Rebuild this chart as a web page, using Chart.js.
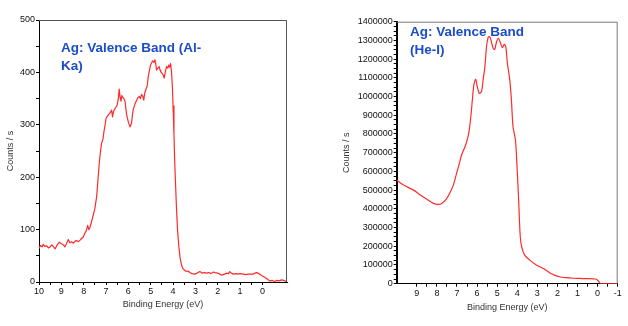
<!DOCTYPE html>
<html>
<head>
<meta charset="utf-8">
<script src="https://cdn.jsdelivr.net/npm/chart.js@4"></script>
<style>
  html, body { margin: 0; padding: 0; background: #fff; }
  body { width: 628px; height: 326px; position: relative; overflow: hidden; }
  canvas { position: absolute; top: 0; }
  #alChart { left: 0; }
  #heChart { left: 320px; }
</style>
</head>
<body>
<canvas id="alChart" width="300" height="326"></canvas>
<canvas id="heChart" width="308" height="326"></canvas>
<script>
// --- Data: Ag valence band, Al-Ka source ---
const energyAl = [
  10, 9.93, 9.86, 9.81, 9.74, 9.66, 9.58, 9.5, 9.43, 9.36,
  9.28, 9.2, 9.09, 9.0, 8.91, 8.84, 8.76, 8.69, 8.62, 8.54,
  8.46, 8.38, 8.32, 8.24, 8.16, 8.1, 8.02, 7.95, 7.88, 7.82,
  7.77, 7.72, 7.65, 7.57, 7.5, 7.42, 7.36, 7.3, 7.25, 7.2,
  7.14, 7.09, 7.04, 7.0, 6.95, 6.9, 6.83, 6.75, 6.71, 6.66,
  6.6, 6.55, 6.5, 6.45, 6.41, 6.37, 6.33, 6.29, 6.26, 6.2,
  6.15, 6.08, 6.0, 5.93, 5.86, 5.82, 5.78, 5.7, 5.63, 5.57,
  5.51, 5.46, 5.41, 5.36, 5.31, 5.27, 5.23, 5.16, 5.11, 5.07,
  5.01, 4.96, 4.92, 4.86, 4.81, 4.77, 4.74, 4.68, 4.62, 4.58,
  4.55, 4.49, 4.44, 4.4, 4.34, 4.29, 4.24, 4.19, 4.15, 4.11,
  4.07, 4.03, 4.0, 3.96, 3.92, 3.88, 3.85, 3.8, 3.74, 3.68,
  3.62, 3.55, 3.47, 3.4, 3.33, 3.25, 3.15, 3.03, 2.93, 2.8,
  2.7, 2.6, 2.5, 2.4, 2.3, 2.2, 2.13, 2.0, 1.9, 1.83,
  1.7, 1.6, 1.52, 1.46, 1.4, 1.31, 1.2, 1.1, 1.0, 0.86,
  0.75, 0.64, 0.52, 0.42, 0.33, 0.27, 0.2, 0.12, 0.02, -0.1,
  -0.2, -0.33, -0.45, -0.55, -0.63, -0.75, -0.85, -0.95, -1.08
];
const countsAl = [
  64, 70, 67, 72, 68, 69, 65, 67, 71, 68,
  63, 70, 76, 73, 71, 67, 74, 81, 75, 77,
  74, 78, 79, 77, 80, 83, 86, 93, 98, 108,
  100, 104, 115, 128, 140, 163, 195, 228, 248, 265,
  272, 288, 300, 312, 316, 319, 322, 328, 315, 326,
  331, 334, 338, 350, 368, 352, 345, 356, 353, 350,
  345, 320, 305, 296, 303, 318, 330, 340, 347, 352,
  354, 350, 358, 355, 347, 360, 366, 373, 392, 401,
  414, 418, 422, 419, 424, 415, 405, 408, 411, 404,
  401, 398, 395, 389, 402, 411, 408, 414, 410, 417,
  402, 372, 336, 282, 222, 178, 144, 100, 67, 45,
  32, 25, 22, 20, 21, 18, 16, 15, 17, 20,
  17, 18, 17, 18, 16, 19, 18, 17, 15, 13,
  15, 17, 16, 20, 17, 15, 16, 15, 16, 15,
  14, 15, 15, 15, 17, 18, 17, 15, 12, 9,
  6, 2, 3, 1, 3, 2, 4, 3, 1
];

// --- Data: Ag valence band, He-I source ---
const energyHe = [
  10, 9.66, 9.16, 8.83, 8.5, 8.17, 7.92, 7.76, 7.54, 7.35,
  7.18, 7.02, 6.88, 6.77, 6.6, 6.47, 6.39, 6.31, 6.22, 6.16,
  6.07, 5.99, 5.89, 5.78, 5.7, 5.61, 5.53, 5.45, 5.39, 5.33,
  5.2, 5.12, 5.03, 4.93, 4.84, 4.74, 4.65, 4.57, 4.49, 4.37,
  4.29, 4.21, 4.09, 4.01, 3.93, 3.85, 3.76, 3.63, 3.38, 3.05,
  2.72, 2.39, 2.15, 1.9, 1.57, 1.24, 0.91, 0.58, 0.1, -0.03,
  -0.15, -0.4, -1.0
];
const countsHe = [
  554000, 527000, 500000, 474000, 451000, 429000, 424000, 429000, 451000, 486000,
  527000, 590000, 643000, 688000, 732000, 777000, 821000, 892000, 999000, 1062000,
  1092000, 1053000, 1017000, 1026000, 1088000, 1160000, 1266000, 1316000, 1320000, 1311000,
  1258000, 1252000, 1293000, 1311000, 1288000, 1261000, 1279000, 1266000, 1177000, 1088000,
  981000, 839000, 768000, 625000, 447000, 251000, 189000, 153000, 126000, 100000,
  82000, 59000, 46000, 37000, 32000, 29000, 28000, 27000, 25000, 16000,
  0, 0, 0
];

// --- Tick lists ---
const xTicksAl = [10, 9, 8, 7, 6, 5, 4, 3, 2, 1, 0];
const yTicksAl = [0, 100, 200, 300, 400, 500];
const xTicksHe = [9, 8, 7, 6, 5, 4, 3, 2, 1, 0, -1];
const yTicksHe = [0, 100000, 200000, 300000, 400000, 500000, 600000, 700000,
  800000, 900000, 1000000, 1100000, 1200000, 1300000, 1400000];

const titleAl = ['Ag: Valence Band (Al-', 'Ka)'];
const titleHe = ['Ag: Valence Band', '(He-I)'];

// Draws the blue title inside the plot and the top/right frame
const framePlugin = {
  id: 'frame',
  afterDraw(chart, args, opts) {
    const { ctx, chartArea: a } = chart;
    ctx.save();
    ctx.strokeStyle = opts.color;
    ctx.lineWidth = 1;
    ctx.beginPath();
    ctx.moveTo(a.left, a.top + 0.5);
    ctx.lineTo(a.right - 0.5, a.top + 0.5);
    ctx.lineTo(a.right - 0.5, a.bottom);
    ctx.stroke();

    ctx.fillStyle = '#1c4cc6';
    ctx.font = 'bold 13.5px "Liberation Sans", Arial, sans-serif';
    ctx.textBaseline = 'middle';
    opts.lines.forEach((line, i) => {
      ctx.fillText(line, a.left + opts.dx, a.top + opts.dy + i * 18);
    });
    ctx.restore();
  }
};

// Build a tick list with minor (unlabelled) marks between the majors
function withMinors(majors, step) {
  const out = [];
  for (let i = 0; i < majors.length; i++) {
    out.push({ value: majors[i], major: true });
    if (i < majors.length - 1) {
      const a = majors[i], b = majors[i + 1];
      const dir = b > a ? 1 : -1;
      for (let v = a + dir * step; dir * (b - v) > 1e-9; v += dir * step) {
        out.push({ value: v, major: false });
      }
    }
  }
  return out;
}

function buildChart(canvasId, energy, counts, cfg) {
  const ctx = document.getElementById(canvasId).getContext('2d');
  const points = energy.map((e, i) => ({ x: e, y: counts[i] }));
  const font = { family: '"Liberation Sans", Arial, sans-serif', size: 9 };

  return new Chart(ctx, {
    type: 'line',
    data: {
      datasets: [{
        data: points,
        borderColor: '#ff2a2a',
        borderWidth: 1.2,
        borderJoinStyle: 'round',
        pointRadius: 0,
        tension: cfg.tension,
        fill: false
      }]
    },
    options: {
      responsive: false,
      animation: false,
      layout: { padding: cfg.padding },
      plugins: {
        legend: { display: false },
        tooltip: { enabled: false },
        frame: { color: cfg.frameColor, lines: cfg.title, dx: cfg.titleDx, dy: cfg.titleDy }
      },
      scales: {
        x: {
          type: 'linear',
          reverse: true,
          min: cfg.xMin,
          max: 10,
          afterBuildTicks: axis => { axis.ticks = withMinors(cfg.xTicks, 0.5).filter(t => t.value >= cfg.xMin); },
          afterFit: axis => { axis.height = cfg.xAxisHeight; },
          ticks: {
            autoSkip: false,
            maxRotation: 0,
            padding: 1.5,
            color: '#111',
            font: font,
            callback: v => (Number.isInteger(v) && cfg.xTicks.includes(v)) ? String(v) : ''
          },
          grid: { drawOnChartArea: false, drawTicks: true, tickLength: 3, color: '#000' },
          border: { display: true, color: '#000', width: 1 },
          title: { display: true, text: 'Binding Energy (eV)', color: '#333', font: font, padding: 4 }
        },
        y: {
          type: 'linear',
          min: 0,
          max: cfg.yMax,
          afterBuildTicks: axis => { axis.ticks = withMinors(cfg.yTicks, cfg.yMinor); },
          afterFit: axis => { axis.width = cfg.yAxisWidth; },
          ticks: {
            autoSkip: false,
            padding: 1,
            color: '#111',
            font: font,
            callback: v => cfg.yTicks.includes(v) ? String(v) : ''
          },
          grid: { drawOnChartArea: false, drawTicks: true, tickLength: 3, color: '#000' },
          border: { display: true, color: '#000', width: cfg.yBorder },
          title: { display: true, text: 'Counts / s', color: '#333', font: font, padding: 4 }
        }
      }
    },
    plugins: [framePlugin]
  });
}

buildChart('alChart', energyAl, countsAl, {
  xTicks: xTicksAl, yTicks: yTicksAl, yMax: 500, yMinor: 50, xMin: -1.1,
  padding: { left: 1.3, right: 13, top: 20, bottom: 11.6 },
  yAxisWidth: 37.7, xAxisHeight: 32.4, yBorder: 1,
  frameColor: '#555', title: titleAl, titleDx: 22, titleDy: 28, tension: 0
});

buildChart('heChart', energyHe, countsHe, {
  xTicks: xTicksHe, yTicks: yTicksHe, yMax: 1400000, yMinor: 25000, xMin: -1,
  padding: { left: 17.6, right: 10.3, top: 21.7, bottom: 8.6 },
  yAxisWidth: 59.1, xAxisHeight: 33.7, yBorder: 2,
  frameColor: '#777', title: titleHe, titleDx: 13.3, titleDy: 10.3, tension: 0.3
});
</script>
</body>
</html>
